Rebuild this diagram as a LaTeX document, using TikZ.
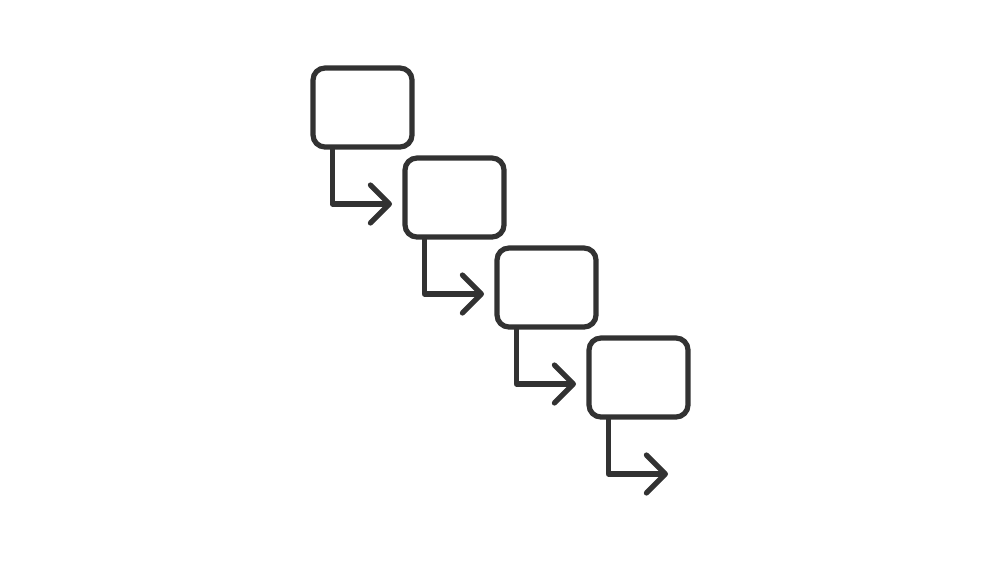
\documentclass[tikz,border=0pt]{standalone}
\usetikzlibrary{arrows.meta}
\definecolor{ink}{RGB}{50,50,50}
\tikzset{
  stepbox/.style={draw=ink, line width=2.6pt, rounded corners=6pt, minimum width=49.5pt, minimum height=39.5pt, inner sep=0pt, fill=white},
  conn/.style={draw=ink, line width=2.6pt, line cap=round, line join=round, -{Straight Barb[length=9.5pt,width=19pt,round]}}
}
\begin{document}
\begin{tikzpicture}[x=0.5pt,y=-0.5pt]
\useasboundingbox (0,0) rectangle (1000,563);
\foreach \i in {0,1,2,3}{
  \node[stepbox] (b\i) at ({362.5+92*\i},{107.5+90*\i}) {};
  \coordinate (e\i) at ({392+92*\i},{204+90*\i});
  \draw[conn] ([xshift=11pt]b\i.south west) |- (e\i);
}
\end{tikzpicture}
\end{document}
